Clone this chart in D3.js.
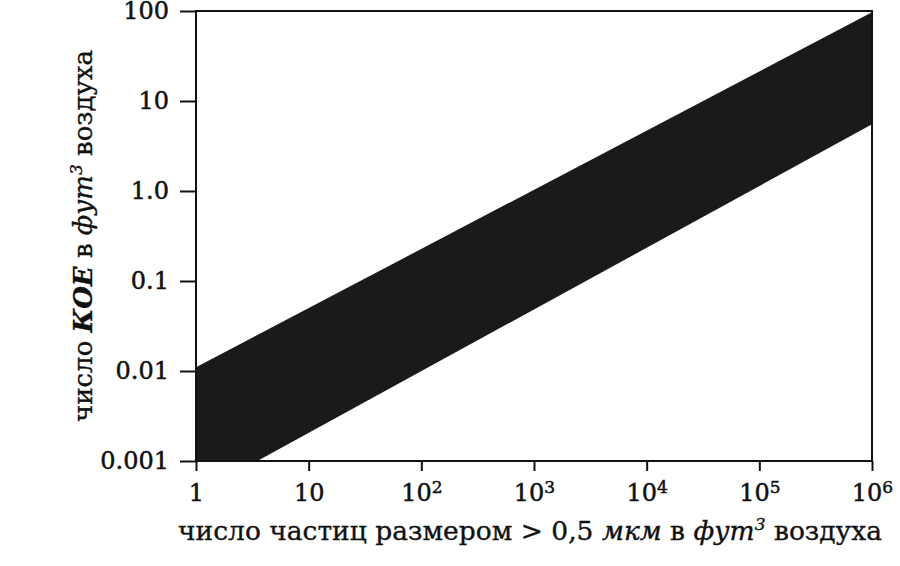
<!DOCTYPE html>
<html>
<head>
<meta charset="utf-8">
<script src="https://cdn.jsdelivr.net/npm/d3@7"></script>
<style>
  html, body { margin: 0; padding: 0; background: #fff; }
  svg text { font-family: "DejaVu Serif", "Liberation Serif", serif; fill: #111; }
</style>
</head>
<body>
<div id="chart"></div>
<script>
// tick values and labels
var xTicks = [1, 10, 1e2, 1e3, 1e4, 1e5, 1e6];
var xTickBase = ["1", "10", "10", "10", "10", "10", "10"];
var xTickExp = ["", "", "2", "3", "4", "5", "6"];
var yTicks = [0.001, 0.01, 0.1, 1, 10, 100];
var yTickLabels = ["0.001", "0.01", "0.1", "1.0", "10", "100"];

// band edges
var bandUpperX = [1, 1e6];
var bandUpperY = [0.011, 97];
var bandLowerX = [1e6, 3.5, 1];
var bandLowerY = [5.5, 0.001, 0.001];

var width = 900, height = 566;
var plotLeft = 196, plotRight = 872, plotTop = 11, plotBottom = 461;
var fontFam = "DejaVu Serif";

var svg = d3.select("#chart").append("svg")
    .attr("width", width)
    .attr("height", height);

var x = d3.scaleLog().domain([1, 1e6]).range([plotLeft, plotRight]);
var y = d3.scaleLog().domain([0.001, 100]).range([plotBottom, plotTop]);

// band polygon
var pts = [];
for (var i = 0; i < bandUpperX.length; i++) pts.push([bandUpperX[i], bandUpperY[i]]);
for (var j = 0; j < bandLowerX.length; j++) pts.push([bandLowerX[j], bandLowerY[j]]);

var line = d3.line()
    .x(function(d) { return x(d[0]); })
    .y(function(d) { return y(d[1]); });

svg.append("path")
    .attr("d", line(pts) + "Z")
    .attr("fill", "#1a1a1a");

// frame
svg.append("rect")
    .attr("x", plotLeft)
    .attr("y", plotTop)
    .attr("width", plotRight - plotLeft)
    .attr("height", plotBottom - plotTop)
    .attr("fill", "none")
    .attr("stroke", "#111")
    .attr("stroke-width", 2);

// y axis
var yAxis = svg.append("g")
    .attr("transform", "translate(" + plotLeft + ",0)")
    .call(d3.axisLeft(y)
        .tickValues(yTicks)
        .tickSize(16)
        .tickPadding(11)
        .tickFormat(function(d, i) { return yTickLabels[i]; }));
yAxis.select(".domain").remove();
yAxis.selectAll("line").attr("stroke", "#111").attr("stroke-width", 2);
yAxis.selectAll("text")
    .attr("font-family", fontFam)
    .attr("font-size", 24)
    .attr("fill", "#111")
    .attr("stroke", "#111")
    .attr("stroke-width", 0.5);

// x axis
var xAxis = svg.append("g")
    .attr("transform", "translate(0," + plotBottom + ")")
    .call(d3.axisBottom(x)
        .tickValues(xTicks)
        .tickSize(10)
        .tickPadding(13)
        .tickFormat(""));
xAxis.select(".domain").remove();
xAxis.selectAll("line").attr("stroke", "#111").attr("stroke-width", 2);
xAxis.selectAll(".tick text").each(function(d, i) {
    var t = d3.select(this)
        .attr("font-family", fontFam)
        .attr("font-size", 24)
        .attr("fill", "#111")
        .attr("stroke", "#111")
        .attr("stroke-width", 0.5);
    t.append("tspan").text(xTickBase[i]);
    if (xTickExp[i]) {
        t.append("tspan")
            .attr("dy", "-0.45em")
            .attr("font-size", 17)
            .text(xTickExp[i]);
    }
});

// axis titles
var xTitle = svg.append("text")
    .attr("x", 530)
    .attr("y", 540)
    .attr("text-anchor", "middle")
    .attr("font-size", 26.5)
    .attr("stroke", "#111")
    .attr("stroke-width", 0.35);
xTitle.append("tspan").text("число частиц размером > 0,5 ");
xTitle.append("tspan").attr("font-style", "italic").text("мкм");
xTitle.append("tspan").text(" в ");
xTitle.append("tspan").attr("font-style", "italic").text("фут");
xTitle.append("tspan").attr("font-style", "italic").attr("font-size", 17).attr("dy", "-0.6em").text("3");
xTitle.append("tspan").attr("dy", "0.4em").text(" воздуха");

var yTitle = svg.append("text")
    .attr("transform", "translate(92,236) rotate(-90)")
    .attr("text-anchor", "middle")
    .attr("font-size", 26)
    .attr("stroke", "#111")
    .attr("stroke-width", 0.35);
yTitle.append("tspan").text("число ");
yTitle.append("tspan").attr("font-style", "italic").attr("font-weight", "bold").text("КОЕ");
yTitle.append("tspan").text(" в ");
yTitle.append("tspan").attr("font-style", "italic").text("фут");
yTitle.append("tspan").attr("font-style", "italic").attr("font-size", 17).attr("dy", "-0.6em").text("3");
yTitle.append("tspan").attr("dy", "0.4em").text(" воздуха");
</script>
</body>
</html>
